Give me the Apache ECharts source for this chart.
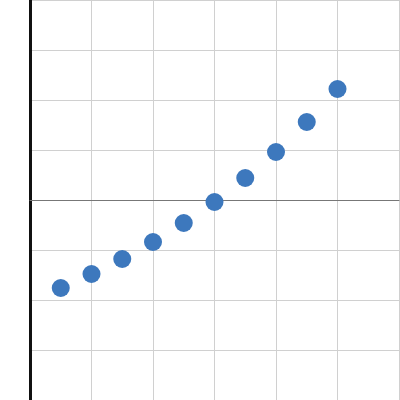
<!DOCTYPE html>
<html><head><meta charset="utf-8">
<script src="https://cdn.jsdelivr.net/npm/echarts@6/dist/echarts.min.js"></script>
<style>html,body{margin:0;padding:0;background:#fff}#c{width:400px;height:400px}</style>
</head><body><div id="c"></div>
<script>
const xValues = [0.5, 1, 1.5, 2, 2.5, 3, 3.5, 4, 4.5, 5];
const yValues = [-1.76, -1.48, -1.18, -0.84, -0.46, -0.04, 0.44, 0.96, 1.56, 2.22];
const chart = echarts.init(document.getElementById('c'));
chart.setOption({
  animation: false,
  grid: {left: 30, right: 1, top: 0, bottom: 0},
  xAxis: {type: 'value', min: 0, max: 6, interval: 1,
    axisLabel: {show: false}, axisTick: {show: false},
    axisLine: {show: true, onZero: true, lineStyle: {color: '#777', width: 1}},
    splitLine: {lineStyle: {color: '#d0d0d0'}}},
  yAxis: {type: 'value', min: -4, max: 4, interval: 1,
    axisLabel: {show: false}, axisTick: {show: false},
    axisLine: {show: true, onZero: false, lineStyle: {color: '#111', width: 3}},
    splitLine: {lineStyle: {color: '#d0d0d0'}}},
  series: [{type: 'scatter', symbolSize: 18,
    itemStyle: {color: '#3d78bd', opacity: 1},
    data: xValues.map((x, i) => [x, yValues[i]])}]
});
</script></body></html>
